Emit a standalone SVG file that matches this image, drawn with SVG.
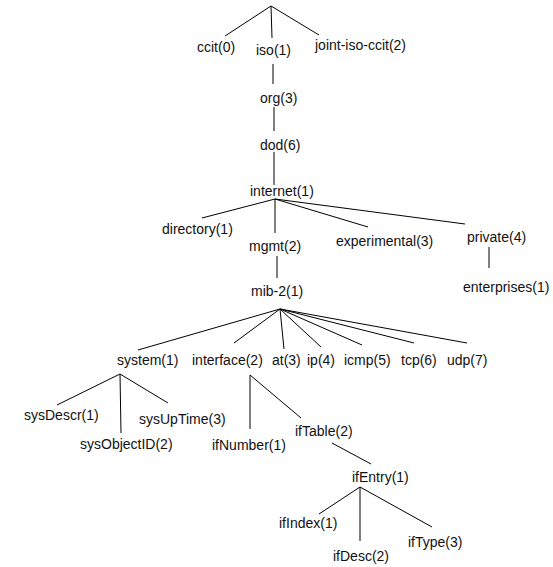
<svg xmlns="http://www.w3.org/2000/svg" width="553" height="567" viewBox="0 0 553 567">
<style>
text{font-family:"Liberation Sans",Arial,sans-serif;font-size:14px;fill:#111}
line{stroke:#000;stroke-width:1}
</style>
<rect width="553" height="567" fill="#fff"/>
<g id="connectors">
<line x1="271" y1="6" x2="225" y2="36"/>
<line x1="271" y1="6" x2="272" y2="38"/>
<line x1="271" y1="6" x2="319" y2="35"/>
<line x1="273" y1="64" x2="273" y2="84"/>
<line x1="274" y1="107" x2="274" y2="131"/>
<line x1="274" y1="152" x2="274" y2="185"/>
<line x1="275" y1="199" x2="202" y2="218"/>
<line x1="275" y1="199" x2="275" y2="233"/>
<line x1="275" y1="199" x2="368" y2="227"/>
<line x1="275" y1="199" x2="465" y2="224"/>
<line x1="489" y1="247" x2="489" y2="268"/>
<line x1="277" y1="256" x2="277" y2="278"/>
<line x1="280" y1="309" x2="138" y2="350"/>
<line x1="280" y1="309" x2="234" y2="343"/>
<line x1="280" y1="309" x2="284" y2="349"/>
<line x1="280" y1="309" x2="321" y2="347"/>
<line x1="280" y1="309" x2="362" y2="345"/>
<line x1="280" y1="309" x2="414" y2="343"/>
<line x1="280" y1="309" x2="467" y2="343"/>
<line x1="120" y1="374" x2="57" y2="405"/>
<line x1="120" y1="374" x2="121" y2="433"/>
<line x1="120" y1="374" x2="168" y2="403"/>
<line x1="250" y1="375" x2="250" y2="429"/>
<line x1="250" y1="375" x2="301" y2="418"/>
<line x1="332" y1="443" x2="371" y2="464"/>
<line x1="360" y1="487" x2="319" y2="514"/>
<line x1="360" y1="487" x2="360" y2="541"/>
<line x1="360" y1="487" x2="432" y2="527"/>
</g>
<g id="ccit"><text x="197" y="52">ccit(0)</text></g>
<g id="iso"><text x="256" y="55">iso(1)</text></g>
<g id="joint-iso-ccit"><text x="315" y="50">joint-iso-ccit(2)</text></g>
<g id="org"><text x="260" y="103">org(3)</text></g>
<g id="dod"><text x="260" y="150">dod(6)</text></g>
<g id="internet"><text x="250" y="196">internet(1)</text></g>
<g id="directory"><text x="162" y="234">directory(1)</text></g>
<g id="mgmt"><text x="249" y="251">mgmt(2)</text></g>
<g id="experimental"><text x="336" y="246">experimental(3)</text></g>
<g id="private"><text x="467" y="242">private(4)</text></g>
<g id="enterprises"><text x="463" y="292">enterprises(1)</text></g>
<g id="mib-2"><text x="251" y="296">mib-2(1)</text></g>
<g id="system"><text x="117" y="365">system(1)</text></g>
<g id="interface"><text x="192" y="365">interface(2)</text></g>
<g id="at"><text x="272" y="365">at(3)</text></g>
<g id="ip"><text x="307" y="365">ip(4)</text></g>
<g id="icmp"><text x="344" y="365">icmp(5)</text></g>
<g id="tcp"><text x="401" y="365">tcp(6)</text></g>
<g id="udp"><text x="447" y="365">udp(7)</text></g>
<g id="sysDescr"><text x="24" y="420">sysDescr(1)</text></g>
<g id="sysUpTime"><text x="139" y="424">sysUpTime(3)</text></g>
<g id="sysObjectID"><text x="80" y="449">sysObjectID(2)</text></g>
<g id="ifNumber"><text x="212" y="450">ifNumber(1)</text></g>
<g id="ifTable"><text x="295" y="436">ifTable(2)</text></g>
<g id="ifEntry"><text x="352" y="482">ifEntry(1)</text></g>
<g id="ifIndex"><text x="279" y="528">ifIndex(1)</text></g>
<g id="ifDesc"><text x="333" y="561">ifDesc(2)</text></g>
<g id="ifType"><text x="408" y="547">ifType(3)</text></g>
</svg>
